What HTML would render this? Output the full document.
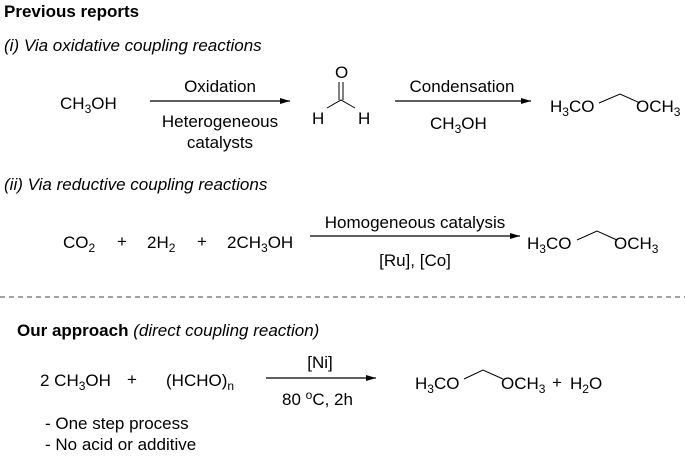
<!DOCTYPE html>
<html><head><meta charset="utf-8"><style>
body{margin:0;background:#fff}
svg{display:block}
text{font-family:"Liberation Sans",Arial,sans-serif;font-size:17px;fill:#000}
.s{font-size:12px}
</style></head><body>
<svg width="685" height="458" viewBox="0 0 685 458">
<defs><marker id="a" markerWidth="10" markerHeight="6" refX="10" refY="3" orient="auto" markerUnits="userSpaceOnUse"><path d="M0,0 L10,3 L0,6 z" fill="#000"/></marker></defs>
<text x="4" y="17" font-weight="bold">Previous reports</text>
<text x="4" y="51" font-style="italic">(i) Via oxidative coupling reactions</text>
<text x="60" y="109">CH<tspan class="s" dy="4">3</tspan><tspan dy="-4">OH</tspan></text>
<line x1="150" y1="101" x2="290" y2="101" stroke="#000" stroke-width="1.2" marker-end="url(#a)"/>
<text x="220" y="92" text-anchor="middle">Oxidation</text>
<text x="220" y="127" text-anchor="middle">Heterogeneous</text>
<text x="220" y="148" text-anchor="middle">catalysts</text>
<text x="335" y="78">O</text>
<line x1="339" y1="82" x2="339" y2="100" stroke="#000"/><line x1="343" y1="82" x2="343" y2="100" stroke="#000"/>
<path d="M327,108 L341,100 L355,108" fill="none" stroke="#000"/>
<text x="312" y="124">H</text><text x="358" y="124">H</text>
<line x1="395" y1="101" x2="531" y2="101" stroke="#000" stroke-width="1.2" marker-end="url(#a)"/>
<text x="462" y="92" text-anchor="middle">Condensation</text>
<text x="430" y="129">CH<tspan class="s" dy="4">3</tspan><tspan dy="-4">OH</tspan></text>
<text x="550" y="112">H<tspan class="s" dy="4">3</tspan><tspan dy="-4">CO</tspan></text>
<path d="M599,103 L620,94 L640,103" fill="none" stroke="#000"/>
<text x="636" y="112">OCH<tspan class="s" dy="4">3</tspan></text>

<text x="4" y="190" font-style="italic">(ii) Via reductive coupling reactions</text>
<text x="63" y="248">CO<tspan class="s" dy="4">2</tspan></text>
<text x="117" y="247" font-size="15">+</text>
<text x="147" y="248">2H<tspan class="s" dy="4">2</tspan></text>
<text x="197" y="247" font-size="15">+</text>
<text x="227" y="248">2CH<tspan class="s" dy="4">3</tspan><tspan dy="-4">OH</tspan></text>
<line x1="310" y1="236" x2="520" y2="236" stroke="#000" stroke-width="1.2" marker-end="url(#a)"/>
<text x="415" y="228" text-anchor="middle">Homogeneous catalysis</text>
<text x="415" y="266" text-anchor="middle">[Ru], [Co]</text>
<text x="527" y="249">H<tspan class="s" dy="4">3</tspan><tspan dy="-4">CO</tspan></text>
<path d="M577,240 L597,231 L617,240" fill="none" stroke="#000"/>
<text x="614" y="249">OCH<tspan class="s" dy="4">3</tspan></text>

<line x1="0" y1="297" x2="685" y2="297" stroke="#444" stroke-width="1" stroke-dasharray="5,4"/>

<text x="17" y="336"><tspan font-weight="bold">Our approach</tspan> <tspan font-style="italic">(direct coupling reaction)</tspan></text>
<text x="40" y="386">2 CH<tspan class="s" dy="4">3</tspan><tspan dy="-4">OH</tspan></text>
<text x="127" y="385" font-size="15">+</text>
<text x="166" y="386">(HCHO)<tspan class="s" dy="4">n</tspan></text>
<line x1="266" y1="378" x2="376" y2="378" stroke="#000" stroke-width="1.2" marker-end="url(#a)"/>
<text x="320" y="368" text-anchor="middle">[Ni]</text>
<text x="282" y="405">80 <tspan class="s" dy="-6">o</tspan><tspan dy="6">C, 2h</tspan></text>
<text x="415" y="389">H<tspan class="s" dy="4">3</tspan><tspan dy="-4">CO</tspan></text>
<path d="M464,379 L483,370 L503,379" fill="none" stroke="#000"/>
<text x="501" y="389">OCH<tspan class="s" dy="4">3</tspan></text>
<text x="552" y="388" font-size="15">+</text>
<text x="570" y="389">H<tspan class="s" dy="4">2</tspan><tspan dy="-4">O</tspan></text>
<text x="45" y="429">- One step process</text>
<text x="45" y="450">- No acid or additive</text>
</svg>
</body></html>
